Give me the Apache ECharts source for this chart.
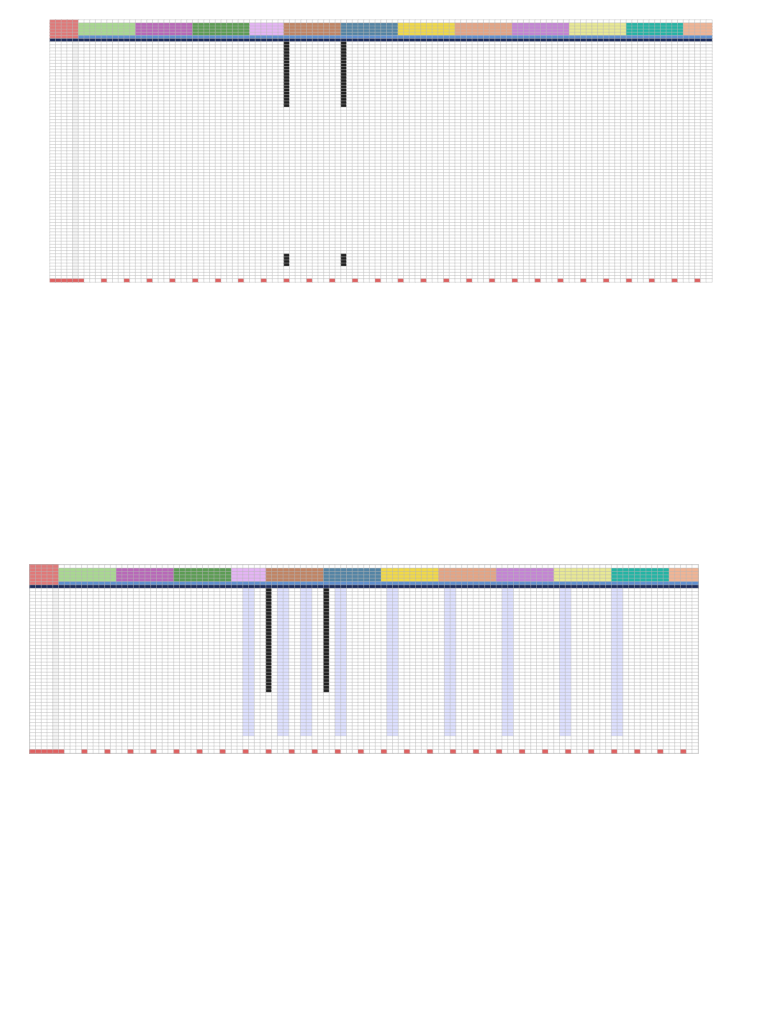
<!DOCTYPE html><html><head><meta charset="utf-8"><script src="https://cdn.jsdelivr.net/npm/echarts@6/dist/echarts.min.js"></script>
<style>html,body{margin:0;background:#fff}#c{width:768px;height:1024px}</style></head><body><div id="c"></div><script>
const groupColors=['#e07878','#a8d890','#b868b8','#5c9c54','#e4b4f4','#c08464','#5484a4','#f0d848','#e4a484','#c484d4','#e8e894','#24b4a4','#f0b494'];
const groupCols=[5,10,10,10,6,10,10,10,10,10,10,10,5];
const headerRows=6, body1=76, body2=48;
const dark1=[[41,0,20],[41,68,71],[51,0,20],[51,68,71]];
const dark2=[[41,0,30],[51,0,30]];
const blue2=[37,38,43,44,47,48,53,54,62,63,72,73,82,83,92,93,101,102];
function build(bodyRows,darks,blues){
  const cols=[];groupCols.forEach((n,g)=>{for(let i=0;i<n;i++)cols.push(g);});
  const W=cols.length,H=headerRows+1+bodyRows+1,data=[];
  for(let x=0;x<W;x++)for(let y=0;y<H;y++){
    let c='#ffffff',g=cols[x];
    if(y<headerRows){c=(y==0)?'#ffffff':(y==headerRows-1?'#6090d0':groupColors[g]);if(g==0)c=groupColors[0];}
    else if(y==headerRows)c='#1c2c5c';
    else if(y==H-1)c=(x%4==1||g==0)?'#e06060':'#ffffff';
    else{const r=y-headerRows-1;
      if(blues&&blues.includes(x)&&r<bodyRows-4)c='#dde0ff';
      darks.forEach(d=>{if(x==d[0]&&r>=d[1]&&r<=d[2])c='#222222';});
      if(g==0&&x==4)c='#f4f4f4';}
    data.push({value:[x,y,1],itemStyle:{color:c}});
  }
  return {W,H,data};
}
const t1=build(body1,dark1,null),t2=build(body2,dark2,blue2);
const ax=(n,i,inv)=>({type:'category',gridIndex:i,data:[...Array(n).keys()],show:false,inverse:inv});
const ch=echarts.init(document.getElementById('c'));
ch.setOption({animation:false,
 grid:[{left:50,top:20,width:662,height:262},{left:30,top:565,width:668,height:188}],
 xAxis:[ax(t1.W,0,false),ax(t2.W,1,false)],yAxis:[ax(t1.H,0,true),ax(t2.H,1,true)],
 series:[{type:'heatmap',xAxisIndex:0,yAxisIndex:0,data:t1.data,itemStyle:{borderColor:'#b8b8b8',borderWidth:0.4}},
 {type:'heatmap',xAxisIndex:1,yAxisIndex:1,data:t2.data,itemStyle:{borderColor:'#b8b8b8',borderWidth:0.4}}]});
</script></body></html>
